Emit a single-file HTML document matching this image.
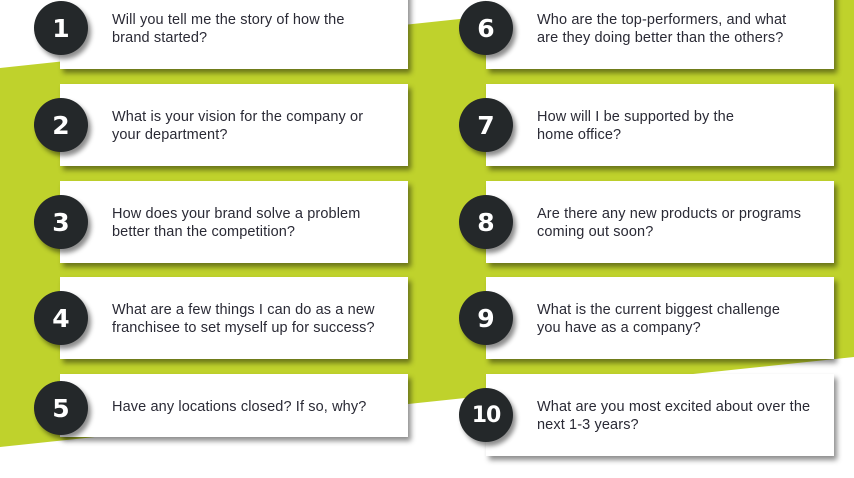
<!DOCTYPE html>
<html><head><style>
html,body{margin:0;padding:0;}
body{width:854px;height:478px;position:relative;overflow:hidden;background:#fff;font-family:"Liberation Sans",sans-serif;}
.card{position:absolute;width:348px;background:#fff;box-shadow:3px 4px 5px rgba(0,0,0,0.45);}
.t{position:absolute;font-size:14.5px;letter-spacing:0.12px;line-height:18px;color:#2a2a35;transform:translateY(-50%);white-space:nowrap;margin-top:1px;}
.c{position:absolute;width:54px;height:54px;border-radius:50%;background:#24282a;color:#fff;font-weight:900;font-size:25px;display:flex;align-items:center;justify-content:center;box-shadow:3px 4px 5px rgba(0,0,0,0.45);transform:translate(-50%,-50%);font-family:"DejaVu Sans","Liberation Sans",sans-serif;}
</style></head><body>
<svg style="position:absolute;left:0;top:0" width="854" height="478"><polygon points="0,68 854,-23 854,357 0,447" fill="#bfd22c"/></svg>

<div class="card" style="left:60px;top:-13px;height:82px"></div>
<div class="card" style="left:60px;top:84px;height:82px"></div>
<div class="card" style="left:60px;top:181px;height:82px"></div>
<div class="card" style="left:60px;top:277px;height:82px"></div>
<div class="card" style="left:60px;top:374px;height:63px"></div>
<div class="card" style="left:486px;top:-13px;height:82px"></div>
<div class="card" style="left:486px;top:84px;height:82px"></div>
<div class="card" style="left:486px;top:181px;height:82px"></div>
<div class="card" style="left:486px;top:277px;height:82px"></div>
<div class="card" style="left:486px;top:374px;height:82px"></div>

<div class="c" style="left:61px;top:28px">1</div>
<div class="c" style="left:61px;top:125px">2</div>
<div class="c" style="left:61px;top:222px">3</div>
<div class="c" style="left:61px;top:318px">4</div>
<div class="c" style="left:61px;top:408px">5</div>
<div class="c" style="left:486px;top:28px">6</div>
<div class="c" style="left:486px;top:125px">7</div>
<div class="c" style="left:486px;top:222px">8</div>
<div class="c" style="left:486px;top:318px">9</div>
<div class="c" style="left:486px;top:415px;font-size:22px;letter-spacing:-1px">10</div>

<div class="t" style="left:112px;top:28px">Will you tell me the story of how the<br>brand started?</div>
<div class="t" style="left:112px;top:125px">What is your vision for the company or<br>your department?</div>
<div class="t" style="left:112px;top:222px">How does your brand solve a problem<br>better than the competition?</div>
<div class="t" style="left:112px;top:318px">What are a few things I can do as a new<br>franchisee to set myself up for success?</div>
<div class="t" style="left:112px;top:406px">Have any locations closed? If so, why?</div>
<div class="t" style="left:537px;top:28px">Who are the top-performers, and what<br>are they doing better than the others?</div>
<div class="t" style="left:537px;top:125px">How will I be supported by the<br>home office?</div>
<div class="t" style="left:537px;top:222px">Are there any new products or programs<br>coming out soon?</div>
<div class="t" style="left:537px;top:318px">What is the current biggest challenge<br>you have as a company?</div>
<div class="t" style="left:537px;top:415px">What are you most excited about over the<br>next 1-3 years?</div>
</body></html>
